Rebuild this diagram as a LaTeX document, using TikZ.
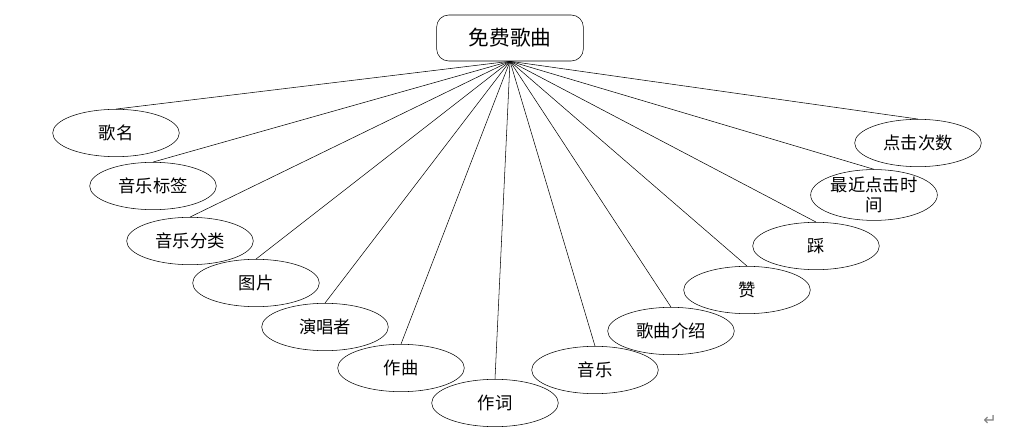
\documentclass[tikz,border=0pt]{standalone}
\usepackage{fontspec}
\usetikzlibrary{shapes.geometric}
\newfontfamily\cjk{Noto Sans CJK SC}
\newfontfamily\symb{DejaVu Sans}

\begin{document}
\begin{tikzpicture}[x=0.75pt,y=-0.75pt]

    \tikzstyle{entity} = [draw, fill=white, rectangle, rounded corners=9pt, minimum height=34.5pt, minimum width=110pt, inner sep=0pt, font=\cjk\fontsize{15.5}{18}\selectfont]
    \tikzstyle{attr} = [draw, fill=white, ellipse, minimum height=35.5pt, minimum width=95pt, inner sep=0pt, font=\cjk\fontsize{13}{15}\selectfont, align=center]

    \useasboundingbox (0,0) rectangle (1022,438);

    \node[entity] (n0) at (510,38) {免费歌曲};

    \node[attr] (a1)  at (116,133) {歌名};
    \node[attr] (a2)  at (153,186) {音乐标签};
    \node[attr] (a3)  at (190,241) {音乐分类};
    \node[attr] (a4)  at (256,283) {图片};
    \node[attr] (a5)  at (325,327) {演唱者};
    \node[attr] (a6)  at (401,368) {作曲};
    \node[attr] (a7)  at (495,403) {作词};
    \node[attr] (a8)  at (595,370) {音乐};
    \node[attr] (a9)  at (671,331) {歌曲介绍};
    \node[attr] (a10) at (747,290) {赞};
    \node[attr] (a11) at (816,246) {踩};
    \node[attr] (a12) at (874,195) {最近点击时\\间};
    \node[attr] (a13) at (918,143) {点击次数};

    \draw (n0.south) -- (a1.north);
    \draw (n0.south) -- (a2.north);
    \draw (n0.south) -- (a3.north);
    \draw (n0.south) -- (a4.north);
    \draw (n0.south) -- (a5.north);
    \draw (n0.south) -- (a6.north);
    \draw (n0.south) -- (a7.north);
    \draw (n0.south) -- (a8.north);
    \draw (n0.south) -- (a9.north);
    \draw (n0.south) -- (a10.north);
    \draw (n0.south) -- (a11.north);
    \draw (n0.south) -- (a12.north);
    \draw (n0.south) -- (a13.north);

    \node[text=gray, font=\symb\fontsize{12}{14}\selectfont] (mark) at (990,420) {↵};
\end{tikzpicture}
\end{document}
